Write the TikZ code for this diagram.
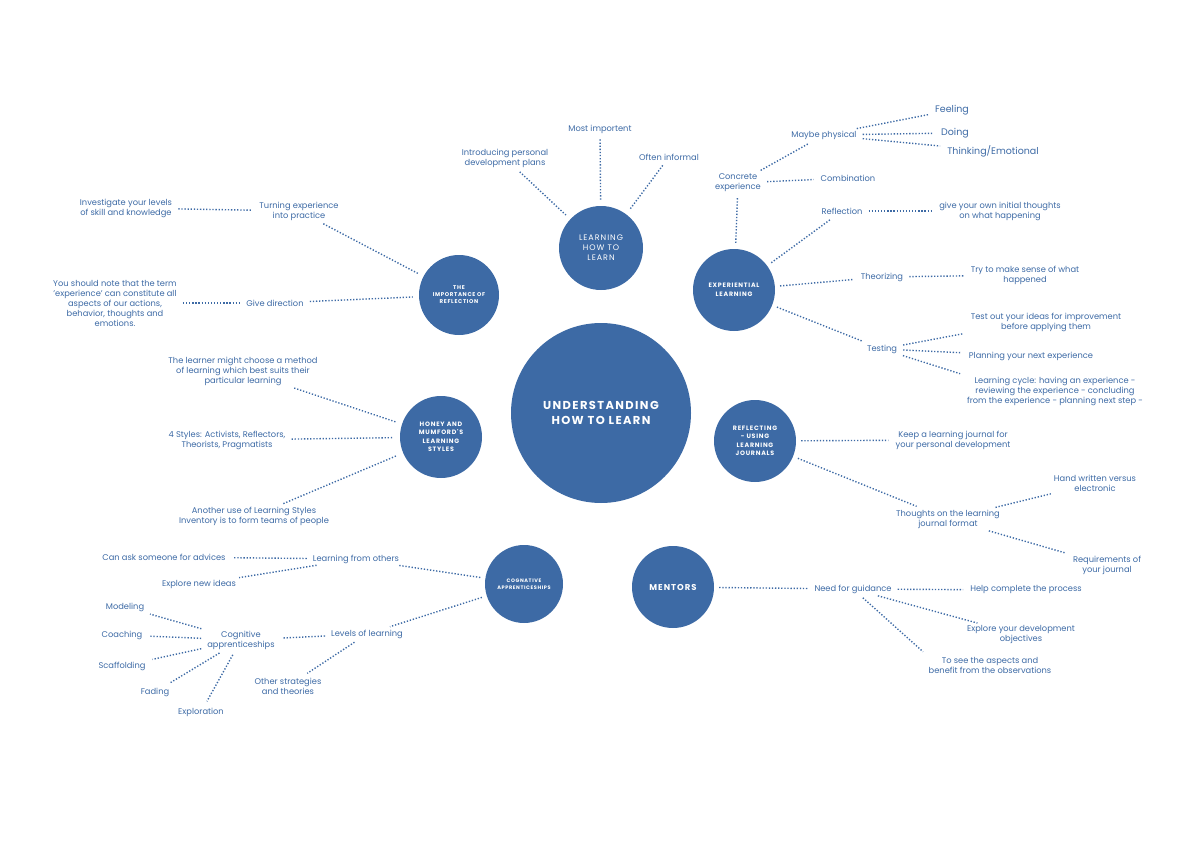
\documentclass[tikz,border=0pt]{standalone}
\usepackage{fontspec}
\setmainfont{Poppins}
\newfontfamily\spaced[LetterSpace=12]{Poppins}
\definecolor{bl}{HTML}{3D6AA5}
\begin{document}
\begin{tikzpicture}[x=1pt,y=-1pt,
 t/.style={text=bl,font=\fontsize{8.3}{10}\selectfont,align=center,inner sep=1pt},
 c/.style={circle,fill=bl,text=white,align=center,font=\spaced\bfseries\fontsize{6.3}{8.5}\selectfont,inner sep=0pt},
 con/.style={draw=bl,line width=1.4pt,dash pattern=on 1.3pt off 1.8pt,shorten <=5pt,shorten >=6pt}]
\useasboundingbox (0,0) rectangle (1200,848);
% circles
\node[c,minimum size=180pt,font=\spaced\bfseries\fontsize{11.5}{15}\selectfont] (M) at (601,413) {UNDERSTANDING\\HOW TO LEARN};
\node[c,minimum size=84pt,font=\spaced\fontsize{8}{10}\selectfont] (L) at (601,248) {LEARNING\\HOW TO\\LEARN};
\node[c,minimum size=80pt,font=\spaced\bfseries\fontsize{5.5}{7}\selectfont] (R) at (459,295) {THE\\IMPORTANCE OF\\REFLECTION};
\node[c,minimum size=82pt] (E) at (734,290) {EXPERIENTIAL\\LEARNING};
\node[c,minimum size=82pt] (H) at (441,437) {HONEY AND\\MUMFORD'S\\LEARNING\\STYLES};
\node[c,minimum size=82pt] (J) at (755,441) {REFLECTING\\- USING\\LEARNING\\JOURNALS};
\node[c,minimum size=78pt,font=\spaced\bfseries\fontsize{5}{6.5}\selectfont] (C) at (524,584) {COGNATIVE\\APPRENTICESHIPS};
\node[c,minimum size=82pt,font=\spaced\bfseries\fontsize{8.5}{10}\selectfont] (N) at (673,587) {MENTORS};
% learning how to learn
\node[t] (l1) at (600,129) {Most importent};
\node[t] (l2) at (505,158) {Introducing personal\\development plans};
\node[t] (l3) at (669,157) {Often informal};
\draw[con] (l1) -- (L); \draw[con] (l2) -- (L); \draw[con] (l3) -- (L);
% experiential
\node[t] (e1) at (738,183) {Concrete\\experience};
\node[t] (e2) at (824,135) {Maybe physical};
\node[t,font=\fontsize{9.5}{11}\selectfont] (e3) at (952,110) {Feeling};
\node[t,font=\fontsize{9.5}{11}\selectfont] (e4) at (955,133) {Doing};
\node[t,font=\fontsize{9.5}{11}\selectfont] (e5) at (993,151) {Thinking/Emotional};
\node[t] (e6) at (848,178) {Combination};
\node[t] (e7) at (842,211) {Reflection};
\node[t] (e8) at (1000,211) {give your own initial thoughts\\on what happening};
\node[t] (e9) at (882,277) {Theorizing};
\node[t] (e10) at (1025,275) {Try to make sense of what\\happened};
\node[t] (e11) at (882,349) {Testing};
\node[t] (e12) at (1046,322) {Test out your ideas for improvement\\before applying them};
\node[t] (e13) at (1031,356) {Planning your next experience};
\node[t] (e14) at (1055,391) {Learning cycle: having an experience -\\reviewing the experience - concluding\\from the experience - planning next step -};
\draw[con] (e1) -- (E); \draw[con] (e1) -- (e2); \draw[con] (e1) -- (e6);
\draw[con] (e2) -- (e3); \draw[con] (e2) -- (e4); \draw[con] (e2) -- (e5);
\draw[con] (E) -- (e7); \draw[con] (e7) -- (e8);
\draw[con] (E) -- (e9); \draw[con] (e9) -- (e10);
\draw[con] (E) -- (e11); \draw[con] (e11) -- (e12.south west); \draw[con] (e11) -- (e13); \draw[con] (e11) -- (e14.north west);
% journals
\node[t] (j1) at (953,440) {Keep a learning journal for\\your personal development};
\node[t] (j2) at (948,519) {Thoughts on the learning\\journal format};
\node[t] (j3) at (1095,483) {Hand written versus\\electronic};
\node[t] (j4) at (1107,565) {Requirements of\\your journal};
\draw[con] (J) -- (j1); \draw[con] (J) -- (j2); \draw[con] (j2) -- (j3); \draw[con] (j2) -- (j4);
% mentors
\node[t] (m1) at (853,589) {Need for guidance};
\node[t] (m2) at (1026,590) {Help complete the process};
\node[t] (m3) at (1021,635) {Explore your development\\objectives};
\node[t] (m4) at (990,665) {To see the aspects and\\benefit from the observations};
\draw[con] (N) -- (m1); \draw[con] (m1) -- (m2); \draw[con] (m1) -- (m3); \draw[con] (m1) -- (m4.north west);
% reflection
\node[t] (r1) at (126,208) {Investigate your levels\\of skill and knowledge};
\node[t] (r2) at (299,211) {Turning experience\\into practice};
\node[t] (r3) at (115,303) {You should note that the term\\'experience' can constitute all\\aspects of our actions,\\behavior, thoughts and\\emotions.};
\node[t] (r4) at (275,303) {Give direction};
\draw[con] (r1) -- (r2); \draw[con] (r2) -- (R); \draw[con] (r3) -- (r4); \draw[con] (r4) -- (R);
% honey
\node[t] (h1) at (243,371) {The learner might choose a method\\of learning which best suits their\\particular learning};
\node[t] (h2) at (227,440) {4 Styles: Activists, Reflectors,\\Theorists, Pragmatists};
\node[t] (h3) at (254,516) {Another use of Learning Styles\\Inventory is to form teams of people};
\draw[con] (h1) -- (H); \draw[con] (h2) -- (H); \draw[con] (h3) -- (H);
% cognitive
\node[t] (c1) at (356,559) {Learning from others};
\node[t] (c2) at (164,557) {Can ask someone for advices};
\node[t] (c3) at (199,584) {Explore new ideas};
\node[t] (c4) at (367,634) {Levels of learning};
\node[t] (c5) at (241,640) {Cognitive\\apprenticeships};
\node[t] (c6) at (125,607) {Modeling};
\node[t] (c7) at (122,635) {Coaching};
\node[t] (c8) at (122,666) {Scaffolding};
\node[t] (c9) at (155,692) {Fading};
\node[t] (c10) at (201,712) {Exploration};
\node[t] (c11) at (288,686) {Other strategies\\and theories};
\draw[con] (C) -- (c1); \draw[con] (c1) -- (c2); \draw[con] (c1) -- (c3);
\draw[con] (C) -- (c4); \draw[con] (c4) -- (c5); \draw[con] (c4) -- (c11);
\draw[con] (c5) -- (c6); \draw[con] (c5) -- (c7); \draw[con] (c5) -- (c8); \draw[con] (c5) -- (c9); \draw[con] (c5) -- (c10);
\end{tikzpicture}
\end{document}
